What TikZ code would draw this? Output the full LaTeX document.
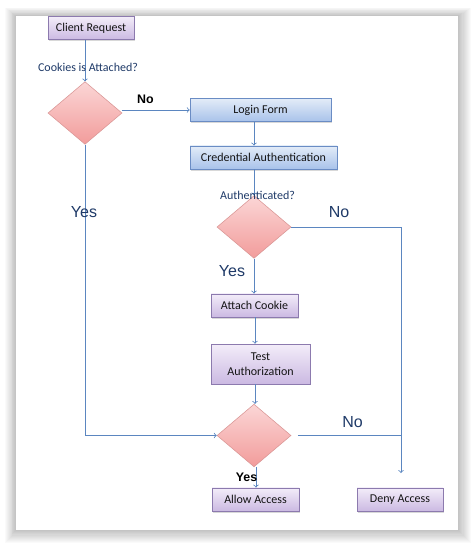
\documentclass[tikz,border=0pt]{standalone}
\usepackage{fontspec}
\setmainfont{Carlito}
\newfontfamily\arialfont{Liberation Sans}
\usetikzlibrary{shapes.geometric,shadows}
\definecolor{linkblue}{HTML}{5B86C0}
\definecolor{asktext}{HTML}{1F3A68}
\definecolor{boxtext}{HTML}{141414}
\definecolor{proctop}{HTML}{F3EDF9}
\definecolor{procbot}{HTML}{CBB9E2}
\definecolor{procline}{HTML}{8C7AAE}
\definecolor{formtop}{HTML}{E3ECF8}
\definecolor{formbot}{HTML}{A8C2EA}
\definecolor{formline}{HTML}{6A8CC4}
\definecolor{dectop}{HTML}{FBD6D6}
\definecolor{decbot}{HTML}{F29C9B}
\definecolor{decline}{HTML}{D99594}

\begin{document}
\begin{tikzpicture}[x=0.75pt,y=-0.75pt,
proc/.style={
% The purple step box:
rectangle,
draw=procline,
top color=proctop, bottom color=procbot,
minimum height=17.5pt,
inner sep=1pt,
text=boxtext,
font=\fontsize{9}{10.8}\selectfont,
drop shadow={shadow xshift=1pt,shadow yshift=-1pt,opacity=0.3}
},
form/.style={
proc,
draw=formline,
top color=formtop, bottom color=formbot
},
decision/.style={
diamond,
draw=decline,
top color=dectop, bottom color=decbot,
minimum width=55.5pt, minimum height=47pt,
inner sep=0pt
},
ask/.style={text=asktext,font=\fontsize{9}{10.8}\selectfont,inner sep=0pt},
tag/.style={text=asktext,font=\arialfont\fontsize{12}{14}\selectfont,inner sep=0pt},
tagbold/.style={text=black,font=\arialfont\bfseries\fontsize{9.3}{11}\selectfont,inner sep=0pt},
link/.style={draw=linkblue,line width=0.6pt}
]
\useasboundingbox (0,0) rectangle (474,547);
% page and its shadow
\fill[white] (0,0) rectangle (474,547);
\foreach \s in {1,...,12}
  \fill[black,opacity=0.018] (16-\s*0.9,16-\s*0.7) rectangle (458+\s*1.1,530+\s*1.1);
\fill[white] (16,16) rectangle (458,530);

% boxes
\node (cr) [proc, minimum width=64.5pt] at (91,28) {Client Request};
\node (d1) [decision] at (85,113) {};
\node (login) [form, minimum width=105.75pt] at (260.5,110) {Login Form};
\node (cred) [form, minimum width=110.25pt] at (263.5,157.5) {Credential Authentication};
\node (d2) [decision] at (254,227) {};
\node (attach) [proc, minimum width=65.25pt] at (254.5,305.5) {Attach Cookie};
\node (test) [proc, minimum width=74.25pt, minimum height=30pt, align=center] at (260.5,364) {Test\\Authorization};
\node (d3) [decision] at (254,435.5) {};
\node (allow) [proc, minimum width=65.25pt] at (255.5,499.5) {Allow Access};
\node (deny) [proc, minimum width=64.5pt] at (400,499.5) {Deny Access};

\coordinate (nojoin) at (401,227);
\coordinate (denyin) at (401,473);

% connectors
\path[link] (d1.north |- cr.south) edge[->] (d1.north);
\path[link] (d1.east |- login.west) edge[->] (login.west);
\path[link] (d2.north |- login.south) edge[->] (d2.north |- cred.north);
\path[link] (d2.north |- cred.south) edge[->] (d2.north);
\path[link] (d2.south) edge[->] (d2.south |- attach.north);
\path[link] ([xshift=0.75pt]d2.south |- attach.south) edge[->] ([xshift=0.75pt]d2.south |- test.north);
\path[link] ([xshift=0.75pt]d3.north |- test.south) edge[->] ([xshift=0.75pt]d3.north);
\path[link] ([xshift=1.5pt]d3.south) edge[->] ([xshift=1.5pt]d3.south |- allow.north);
\draw[link,->] (d2.east) -- (nojoin) -- (denyin);
\draw[link] ([xshift=5pt]d3.east) -- (d3.east -| nojoin);
\draw[link,->] (d1.south) |- (d3.west);

% labels
\node (qcookie) [ask] at (88,67) {Cookies is Attached?};
\node (nocookie) [tagbold] at (145.5,99.5) {No};
\node (qauth) [ask] at (257.5,195) {Authenticated?};
\node (noauth) [tag] at (339,212) {No};
\node (yesauth) [tag] at (232,271) {Yes};
\node (yescookie) [tag] at (84,212) {Yes};
\node (notest) [tag] at (352.5,422) {No};
\node (yestest) [tagbold] at (246.5,477) {Yes};
\end{tikzpicture}
\end{document}
